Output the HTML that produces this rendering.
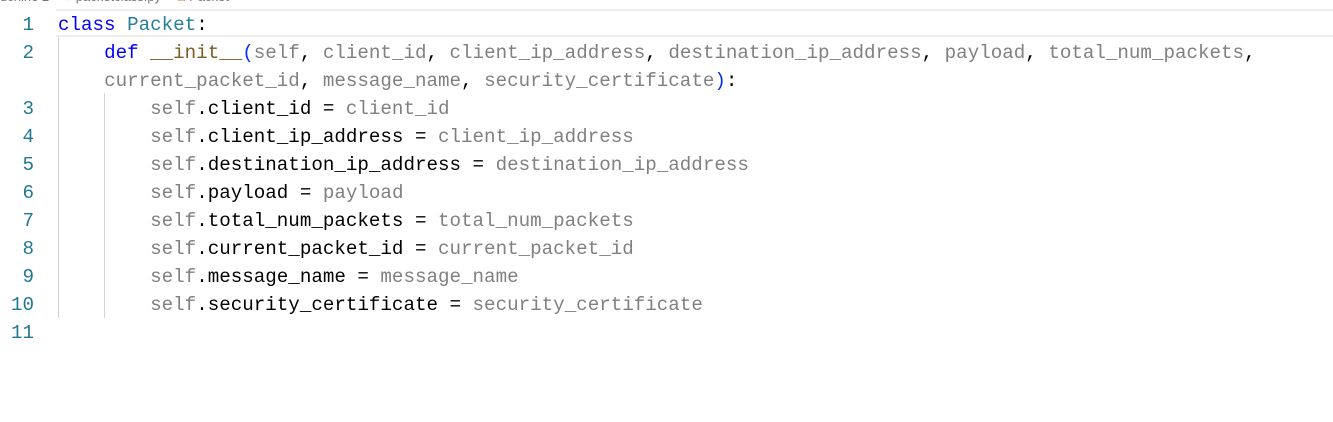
<!DOCTYPE html>
<html><head><meta charset="utf-8"><style>
html,body{margin:0;padding:0;width:1333px;height:422px;background:#fff;overflow:hidden;position:relative}
.code{position:absolute;left:58px;white-space:pre;font-family:"Liberation Mono",monospace;font-size:19.2px;line-height:28px;color:#000}
.ln{position:absolute;left:0;width:34px;text-align:right;font-family:"Liberation Mono",monospace;font-size:19.2px;line-height:28px;color:#237893}
.k{color:#0000ff}.c{color:#267f99}.f{color:#795e26}.p{color:#808080}.b{color:#0431fa}
.hl{position:absolute;left:56px;top:9px;width:1290px;height:24px;border-top:2px solid #eeeeee;border-bottom:2px solid #eeeeee}
.g{position:absolute;width:1px;background:#d3d3d3}
.crumb{position:absolute;top:-11px;left:0;font-family:"Liberation Sans",sans-serif;font-size:13px;color:#777;white-space:pre}
</style></head><body>
<div class="crumb">uchine 2 ›  <span style="color:#4a76b8">●</span> packetclass.py ›  <span style="color:#c28430">⧉</span> Packet</div>
<div class="hl"></div>
<div class="g" style="left:58px;top:37px;height:281px"></div>
<div class="g" style="left:104px;top:93px;height:225px"></div>
<div class="ln" style="top:11px">1</div>
<div class="ln" style="top:39px">2</div>
<div class="ln" style="top:95px">3</div>
<div class="ln" style="top:123px">4</div>
<div class="ln" style="top:151px">5</div>
<div class="ln" style="top:179px">6</div>
<div class="ln" style="top:207px">7</div>
<div class="ln" style="top:235px">8</div>
<div class="ln" style="top:263px">9</div>
<div class="ln" style="top:291px">10</div>
<div class="ln" style="top:319px">11</div>
<div class="code" style="top:11px"><span class="k">class</span> <span class="c">Packet</span>:
    <span class="k">def</span> <span class="f">__init__</span><span class="b">(</span><span class="p">self</span>, <span class="p">client_id</span>, <span class="p">client_ip_address</span>, <span class="p">destination_ip_address</span>, <span class="p">payload</span>, <span class="p">total_num_packets</span>,
    <span class="p">current_packet_id</span>, <span class="p">message_name</span>, <span class="p">security_certificate</span><span class="b">)</span>:
        <span class="p">self</span>.client_id = <span class="p">client_id</span>
        <span class="p">self</span>.client_ip_address = <span class="p">client_ip_address</span>
        <span class="p">self</span>.destination_ip_address = <span class="p">destination_ip_address</span>
        <span class="p">self</span>.payload = <span class="p">payload</span>
        <span class="p">self</span>.total_num_packets = <span class="p">total_num_packets</span>
        <span class="p">self</span>.current_packet_id = <span class="p">current_packet_id</span>
        <span class="p">self</span>.message_name = <span class="p">message_name</span>
        <span class="p">self</span>.security_certificate = <span class="p">security_certificate</span>
</div>
</body></html>
